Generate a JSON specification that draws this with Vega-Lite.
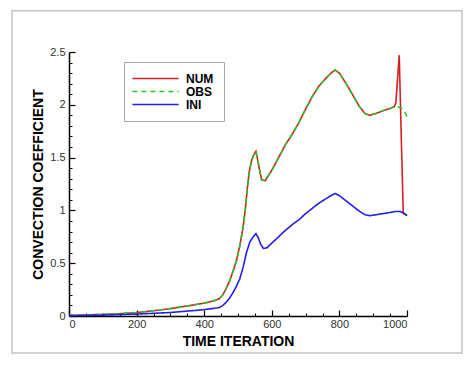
{
  "$schema": "https://vega.github.io/schema/vega-lite/v6.json",
  "width": 338,
  "height": 264,
  "autosize": {"type": "none"},
  "padding": {"left": 69, "top": 52, "right": 67, "bottom": 50},
  "background": "white",
  "config": {
    "view": {"stroke": null},
    "font": "Liberation Sans",
    "legend": {
      "orient": "none",
      "legendX": 55,
      "legendY": 10,
      "strokeColor": "#a8a8a8",
      "fillColor": "white",
      "padding": 10,
      "symbolType": "M-4.2,0L4.2,0",
      "symbolSize": 121,
      "symbolStrokeWidth": 1.6,
      "symbolOffset": 15,
      "labelFontSize": 12,
      "labelFontWeight": "bold",
      "labelColor": "black",
      "labelOffset": 24,
      "rowPadding": -1,
      "title": null
    }
  },
  "layer": [
    {
      "data": {"values": [{"k": 1}]},
      "mark": {"type": "rect", "fill": null, "stroke": "#c4c4c4", "strokeWidth": 1.5, "clip": false},
      "encoding": {
        "x": {"datum": -168.6, "type": "quantitative", "scale": {"domain": [0, 1000]},
          "axis": {"orient": "bottom", "values": [50,100,150,250,300,350,450,500,550,650,700,750,850,900,950], "labels": false, "domain": false, "grid": false, "tickSize": -3, "tickColor": "black", "tickWidth": 1, "title": null}},
        "x2": {"datum": 1162.7},
        "y": {"datum": 2.89, "type": "quantitative", "scale": {"domain": [0, 2.5]},
          "axis": {"orient": "left", "values": [0.1,0.2,0.3,0.4,0.6,0.7,0.8,0.9,1.1,1.2,1.3,1.4,1.6,1.7,1.8,1.9,2.1,2.2,2.3,2.4], "labels": false, "domain": false, "grid": false, "tickSize": -3, "tickColor": "black", "tickWidth": 1, "title": null}},
        "y2": {"datum": -0.35}
      }
    },
    {
      "data": {"values": [
        {"x":0,"y":0.005,"s":"NUM"},{"x":50,"y":0.01,"s":"NUM"},{"x":100,"y":0.015,"s":"NUM"},{"x":150,"y":0.022,"s":"NUM"},{"x":200,"y":0.032,"s":"NUM"},{"x":250,"y":0.05,"s":"NUM"},{"x":300,"y":0.07,"s":"NUM"},{"x":350,"y":0.095,"s":"NUM"},{"x":400,"y":0.122,"s":"NUM"},{"x":430,"y":0.145,"s":"NUM"},{"x":445,"y":0.165,"s":"NUM"},{"x":455,"y":0.2,"s":"NUM"},{"x":465,"y":0.26,"s":"NUM"},{"x":475,"y":0.33,"s":"NUM"},{"x":485,"y":0.42,"s":"NUM"},{"x":495,"y":0.52,"s":"NUM"},{"x":505,"y":0.66,"s":"NUM"},{"x":515,"y":0.84,"s":"NUM"},{"x":522,"y":1.02,"s":"NUM"},{"x":528,"y":1.22,"s":"NUM"},{"x":533,"y":1.36,"s":"NUM"},{"x":540,"y":1.47,"s":"NUM"},{"x":547,"y":1.53,"s":"NUM"},{"x":553,"y":1.56,"s":"NUM"},{"x":558,"y":1.48,"s":"NUM"},{"x":564,"y":1.38,"s":"NUM"},{"x":570,"y":1.29,"s":"NUM"},{"x":580,"y":1.28,"s":"NUM"},{"x":590,"y":1.33,"s":"NUM"},{"x":600,"y":1.38,"s":"NUM"},{"x":620,"y":1.5,"s":"NUM"},{"x":640,"y":1.62,"s":"NUM"},{"x":662,"y":1.73,"s":"NUM"},{"x":680,"y":1.83,"s":"NUM"},{"x":700,"y":1.96,"s":"NUM"},{"x":720,"y":2.08,"s":"NUM"},{"x":740,"y":2.18,"s":"NUM"},{"x":760,"y":2.25,"s":"NUM"},{"x":775,"y":2.3,"s":"NUM"},{"x":787,"y":2.33,"s":"NUM"},{"x":800,"y":2.3,"s":"NUM"},{"x":820,"y":2.2,"s":"NUM"},{"x":840,"y":2.09,"s":"NUM"},{"x":860,"y":1.98,"s":"NUM"},{"x":875,"y":1.92,"s":"NUM"},{"x":890,"y":1.9,"s":"NUM"},{"x":910,"y":1.92,"s":"NUM"},{"x":930,"y":1.945,"s":"NUM"},{"x":950,"y":1.965,"s":"NUM"},{"x":963,"y":1.985,"s":"NUM"},{"x":967,"y":2.02,"s":"NUM"},{"x":977,"y":2.47,"s":"NUM"},{"x":983,"y":1.7,"s":"NUM"},{"x":989,"y":0.97,"s":"NUM"},{"x":1000,"y":0.95,"s":"NUM"},
        {"x":0,"y":0.005,"s":"OBS"},{"x":50,"y":0.01,"s":"OBS"},{"x":100,"y":0.015,"s":"OBS"},{"x":150,"y":0.022,"s":"OBS"},{"x":200,"y":0.032,"s":"OBS"},{"x":250,"y":0.05,"s":"OBS"},{"x":300,"y":0.07,"s":"OBS"},{"x":350,"y":0.095,"s":"OBS"},{"x":400,"y":0.122,"s":"OBS"},{"x":430,"y":0.145,"s":"OBS"},{"x":445,"y":0.165,"s":"OBS"},{"x":455,"y":0.2,"s":"OBS"},{"x":465,"y":0.26,"s":"OBS"},{"x":475,"y":0.33,"s":"OBS"},{"x":485,"y":0.42,"s":"OBS"},{"x":495,"y":0.52,"s":"OBS"},{"x":505,"y":0.66,"s":"OBS"},{"x":515,"y":0.84,"s":"OBS"},{"x":522,"y":1.02,"s":"OBS"},{"x":528,"y":1.22,"s":"OBS"},{"x":533,"y":1.36,"s":"OBS"},{"x":540,"y":1.47,"s":"OBS"},{"x":547,"y":1.53,"s":"OBS"},{"x":553,"y":1.56,"s":"OBS"},{"x":558,"y":1.48,"s":"OBS"},{"x":564,"y":1.38,"s":"OBS"},{"x":570,"y":1.29,"s":"OBS"},{"x":580,"y":1.28,"s":"OBS"},{"x":590,"y":1.33,"s":"OBS"},{"x":600,"y":1.38,"s":"OBS"},{"x":620,"y":1.5,"s":"OBS"},{"x":640,"y":1.62,"s":"OBS"},{"x":662,"y":1.73,"s":"OBS"},{"x":680,"y":1.83,"s":"OBS"},{"x":700,"y":1.96,"s":"OBS"},{"x":720,"y":2.08,"s":"OBS"},{"x":740,"y":2.18,"s":"OBS"},{"x":760,"y":2.25,"s":"OBS"},{"x":775,"y":2.3,"s":"OBS"},{"x":787,"y":2.33,"s":"OBS"},{"x":800,"y":2.3,"s":"OBS"},{"x":820,"y":2.2,"s":"OBS"},{"x":840,"y":2.09,"s":"OBS"},{"x":860,"y":1.98,"s":"OBS"},{"x":875,"y":1.92,"s":"OBS"},{"x":890,"y":1.9,"s":"OBS"},{"x":910,"y":1.92,"s":"OBS"},{"x":930,"y":1.945,"s":"OBS"},{"x":950,"y":1.965,"s":"OBS"},{"x":963,"y":1.985,"s":"OBS"},{"x":975,"y":1.98,"s":"OBS"},{"x":985,"y":1.965,"s":"OBS"},{"x":993,"y":1.93,"s":"OBS"},{"x":1000,"y":1.89,"s":"OBS"},
        {"x":0,"y":0.003,"s":"INI"},{"x":100,"y":0.008,"s":"INI"},{"x":200,"y":0.018,"s":"INI"},{"x":300,"y":0.033,"s":"INI"},{"x":400,"y":0.06,"s":"INI"},{"x":445,"y":0.08,"s":"INI"},{"x":455,"y":0.1,"s":"INI"},{"x":465,"y":0.13,"s":"INI"},{"x":475,"y":0.17,"s":"INI"},{"x":485,"y":0.22,"s":"INI"},{"x":495,"y":0.28,"s":"INI"},{"x":505,"y":0.35,"s":"INI"},{"x":515,"y":0.46,"s":"INI"},{"x":525,"y":0.6,"s":"INI"},{"x":535,"y":0.7,"s":"INI"},{"x":545,"y":0.75,"s":"INI"},{"x":553,"y":0.78,"s":"INI"},{"x":560,"y":0.74,"s":"INI"},{"x":567,"y":0.68,"s":"INI"},{"x":575,"y":0.64,"s":"INI"},{"x":585,"y":0.645,"s":"INI"},{"x":600,"y":0.69,"s":"INI"},{"x":620,"y":0.75,"s":"INI"},{"x":640,"y":0.81,"s":"INI"},{"x":662,"y":0.87,"s":"INI"},{"x":680,"y":0.91,"s":"INI"},{"x":700,"y":0.97,"s":"INI"},{"x":720,"y":1.02,"s":"INI"},{"x":740,"y":1.07,"s":"INI"},{"x":760,"y":1.11,"s":"INI"},{"x":775,"y":1.14,"s":"INI"},{"x":787,"y":1.16,"s":"INI"},{"x":800,"y":1.14,"s":"INI"},{"x":820,"y":1.09,"s":"INI"},{"x":840,"y":1.04,"s":"INI"},{"x":860,"y":0.99,"s":"INI"},{"x":875,"y":0.96,"s":"INI"},{"x":890,"y":0.95,"s":"INI"},{"x":910,"y":0.96,"s":"INI"},{"x":930,"y":0.97,"s":"INI"},{"x":950,"y":0.98,"s":"INI"},{"x":965,"y":0.99,"s":"INI"},{"x":980,"y":0.99,"s":"INI"},{"x":990,"y":0.975,"s":"INI"},{"x":1000,"y":0.95,"s":"INI"}
      ]},
      "mark": {"type": "line", "strokeWidth": 1.6},
      "encoding": {
        "x": {"field": "x", "type": "quantitative", "scale": {"domain": [0, 1000]},
          "axis": {"orient": "bottom", "values": [0,200,400,600,800,1000], "format": "d", "grid": false, "domainColor": "black", "domainWidth": 1.5, "tickColor": "black", "tickWidth": 1.2, "tickSize": -6, "labelFontSize": 11, "labelColor": "#333", "labelPadding": 8, "title": "TIME ITERATION", "titleFontSize": 14, "titleFontWeight": "bold", "titleColor": "black", "titlePadding": 5}},
        "y": {"field": "y", "type": "quantitative", "scale": {"domain": [0, 2.5]},
          "axis": {"orient": "left", "values": [0,0.5,1,1.5,2,2.5], "format": "~g", "grid": false, "domainColor": "black", "domainWidth": 1.5, "tickColor": "black", "tickWidth": 1.2, "tickSize": -6, "labelFontSize": 11, "labelColor": "#333", "labelPadding": 10, "title": "CONVECTION COEFFICIENT", "titleFontSize": 14, "titleFontWeight": "bold", "titleColor": "black", "titlePadding": 4}},
        "color": {"field": "s", "type": "nominal", "scale": {"domain": ["NUM", "OBS", "INI"], "range": ["#d81e1e", "#22c822", "#2020e6"]}},
        "strokeDash": {"field": "s", "type": "nominal", "scale": {"domain": ["NUM", "OBS", "INI"], "range": [[1, 0], [5, 4], [1, 0]]}}
      }
    }
  ],
  "resolve": {"axis": {"x": "independent", "y": "independent"}}
}
